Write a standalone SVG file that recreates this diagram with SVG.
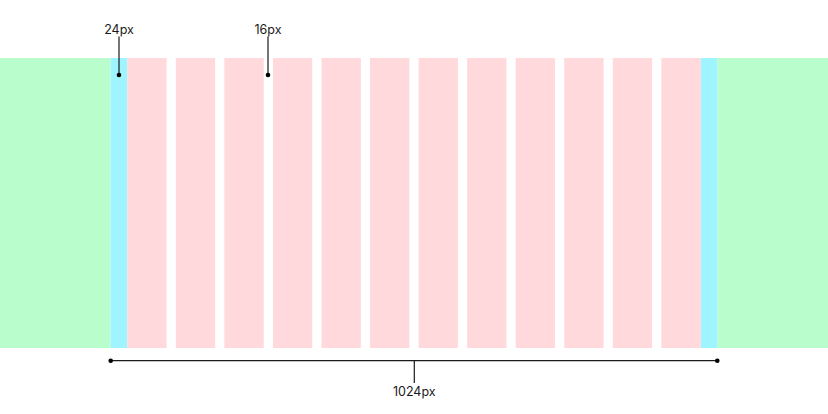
<svg xmlns="http://www.w3.org/2000/svg" width="828" height="414" viewBox="0 0 828 414">
<style>
.g{fill:#b8fdcb}.c{fill:#9ff5ff}.p{fill:#ffd9db}
.ln{stroke:#1a1a1a;stroke-width:1.2;fill:none}
.dot{fill:#000}
text{font-family:Inter,"Liberation Sans",sans-serif;font-size:12.5px;fill:#1a1a1a;text-anchor:middle}
</style>
<rect width="828" height="414" fill="#fff"/>
<g id="margins">
<rect class="g" x="0" y="58" width="110.5" height="290"/>
<rect class="g" x="717.3" y="58" width="110.7" height="290"/>
</g>
<g id="padding">
<rect class="c" x="110.5" y="58" width="16.8" height="290"/>
<rect class="c" x="700.7" y="58" width="16.6" height="290"/>
</g>
<g id="columns">
<rect class="p" x="127.3" y="58" width="39.3" height="290"/>
<rect class="p" x="175.85" y="58" width="39.3" height="290"/>
<rect class="p" x="224.4" y="58" width="39.3" height="290"/>
<rect class="p" x="272.95" y="58" width="39.3" height="290"/>
<rect class="p" x="321.5" y="58" width="39.3" height="290"/>
<rect class="p" x="370.05" y="58" width="39.3" height="290"/>
<rect class="p" x="418.6" y="58" width="39.3" height="290"/>
<rect class="p" x="467.15" y="58" width="39.3" height="290"/>
<rect class="p" x="515.7" y="58" width="39.3" height="290"/>
<rect class="p" x="564.25" y="58" width="39.3" height="290"/>
<rect class="p" x="612.8" y="58" width="39.3" height="290"/>
<rect class="p" x="661.35" y="58" width="39.4" height="290"/>
</g>
<g id="connectors">
<line class="ln" x1="119" y1="36.5" x2="119" y2="75"/>
<circle class="dot" cx="119" cy="75" r="2.3"/>
<line class="ln" x1="268" y1="36.5" x2="268" y2="75"/>
<circle class="dot" cx="268" cy="75" r="2.3"/>
<line class="ln" x1="110.7" y1="360.7" x2="717.3" y2="360.7"/>
<circle class="dot" cx="110.7" cy="360.7" r="2.3"/>
<circle class="dot" cx="717.3" cy="360.7" r="2.3"/>
<line class="ln" x1="414.3" y1="360.7" x2="414.3" y2="383"/>
</g>
<g id="labels">
<text x="119" y="34">24px</text>
<text x="268" y="34">16px</text>
<text x="414.3" y="395.5">1024px</text>
</g>
</svg>
